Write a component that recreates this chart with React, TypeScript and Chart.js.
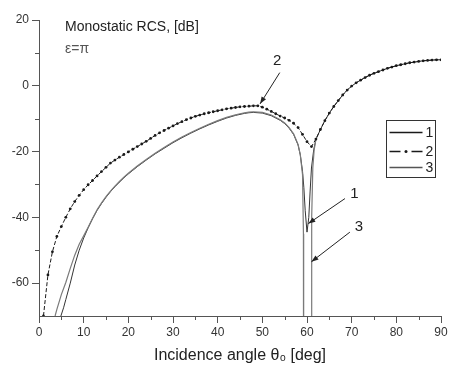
import React, { useEffect, useRef } from "react";
import { Chart, registerables } from "chart.js";

Chart.register(...registerables);

// ---- axis ticks ----
const xTicks = [0, 10, 20, 30, 40, 50, 60, 70, 80, 90];
const xMinorTicks = [5, 15, 25, 35, 45, 55, 65, 75, 85];
const yTicks = [-60, -40, -20, 0, 20];
const yMinorTicks = [-50, -30, -10, 10];

// ---- series labels ----
const seriesLabels = ["1", "2", "3"];

// ---- curve 2 (dash-dot with markers) ----
const curve2X = [
  1, 2, 3, 4, 5, 6, 7, 8, 9, 10, 11, 12, 13, 14, 15, 16, 17, 18, 19, 20,
  21, 22, 23, 24, 25, 26, 27, 28, 29, 30, 31, 32, 33, 34, 35, 36, 37, 38, 39, 40,
  41, 42, 43, 44, 45, 46, 47, 48, 49, 50, 51, 52, 53, 54, 55, 56, 57, 58, 59, 60,
  61, 62, 63, 64, 65, 66, 67, 68, 69, 70, 71, 72, 73, 74, 75, 76, 77, 78, 79, 80,
  81, 82, 83, 84, 85, 86, 87, 88, 89, 90,
];
const curve2Y = [
  -70, -57.5, -50.5, -45.8, -42.8, -40.0, -37.4, -35.2, -33.3, -31.6,
  -30.1, -28.8, -27.4, -26.1, -24.8, -23.5, -22.6, -21.7, -20.9, -20.1,
  -19.3, -18.5, -17.7, -16.9, -16.0, -15.1, -14.3, -13.6, -12.9, -12.2,
  -11.5, -10.9, -10.3, -9.8, -9.3, -8.9, -8.5, -8.2, -7.9, -7.6,
  -7.3, -7.0, -6.8, -6.6, -6.4, -6.3, -6.2, -6.1, -6.1, -6.5,
  -7.1, -7.8, -8.5, -9.2, -9.8, -10.5, -11.4, -12.7, -14.8, -17.0,
  -18.5, -16.2, -13.3, -10.6, -8.3, -6.3, -4.5, -2.8, -1.3, -0.1,
  0.9, 1.7, 2.5, 3.2, 3.8, 4.3, 4.8, 5.3, 5.7, 6.1,
  6.4, 6.7, 7.0, 7.2, 7.4, 7.6, 7.7, 7.8, 7.9, 7.9,
];

// ---- curve 1 (solid black) ----
const curve1X = [
  4.9, 5.5, 6, 7, 8, 9, 10, 11, 12, 13, 14, 15, 16, 17, 18, 19, 20,
  22, 24, 26, 28, 30, 32, 34, 36, 38, 40, 42, 44, 46, 47, 48, 50, 52, 54,
  55, 56, 57, 58, 58.5, 59, 59.3, 59.6, 60, 60.4, 60.7, 61, 61.5, 62,
  63, 64, 65, 66, 67, 68, 69, 70, 71, 72, 73, 74, 75, 76, 77, 78, 79, 80,
  81, 82, 83, 84, 85, 86, 87, 88, 89, 90,
];
const curve1Y = [
  -70, -67.5, -65, -60, -54.5, -50, -46.3, -43.2, -40.4, -37.9, -35.8, -33.9, -32.2, -30.7, -29.3, -28.0, -26.8,
  -24.6, -22.6, -20.7, -19.0, -17.3, -15.8, -14.4, -13.1, -11.9, -10.8, -9.8, -9.0, -8.4, -8.2, -8.1, -8.3, -9.1, -10.5,
  -11.5, -12.9, -14.8, -18.0, -21, -26, -31, -38, -44.5, -40, -32, -25, -19.5, -16.3,
  -13.3, -10.6, -8.3, -6.3, -4.5, -2.8, -1.3, -0.1, 0.9, 1.7, 2.5, 3.2, 3.8, 4.3, 4.8, 5.3, 5.7, 6.1,
  6.4, 6.7, 7.0, 7.2, 7.4, 7.6, 7.7, 7.8, 7.9, 7.9,
];

// ---- curve 3 (solid grey) ----
const curve3X = [
  3.6, 4, 5, 6, 7, 8, 9, 10, 11, 12, 13, 14, 15, 16, 17, 18, 19, 20,
  22, 24, 26, 28, 30, 32, 34, 36, 38, 40, 42, 44, 46, 47, 48, 50, 52, 54,
  55, 56, 57, 58, 58.5, 59, 59.2, 59.25, 60.95, 61.05, 61.3, 61.6, 62,
];
const curve3Y = [
  -70, -68, -63.5, -59.8, -55.5, -51.5, -48.2, -45.6, -43, -40.3, -37.7, -35.6, -33.7, -32.0, -30.5, -29.1, -27.8, -26.6,
  -24.4, -22.4, -20.5, -18.8, -17.1, -15.6, -14.2, -12.9, -11.7, -10.6, -9.6, -8.8, -8.2, -8.0, -7.9, -8.1, -8.9, -10.3,
  -11.3, -12.7, -14.6, -17.8, -21, -27, -45, -120, -120, -40, -25, -19.5, -16.3,
];

// ---- arrow annotations (data coordinates) ----
const annLabels = ["2", "1", "3"];
const annTipX = [49.5, 60.3, 61.0];
const annTipY = [-5.5, -41.9, -53.5];
const annTailX = [53.9, 68.5, 69.6];
const annTailY = [4.0, -34.3, -44.5];
const annTextX = [53.3, 70.6, 71.6];
const annTextY = [7.6, -33.0, -43.0];

const titleText = "Monostatic RCS, [dB]";
const subText = "ε=π";
const xTitle = "Incidence angle θ₀ [deg]";

const FONT = "'Liberation Sans', Arial, sans-serif";
const AXIS = "#555";
const BLACK = "#1a1a1a";
const DARK = "#333";
const GREY = "#7a7a7a";

const zip = (xs: number[], ys: number[]) => xs.map((x, i) => ({ x, y: ys[i] }));

const overlay = {
  id: "overlay",
  afterDraw(chart: any) {
    const { ctx, chartArea } = chart;
    const xs = chart.scales.x;
    const ys = chart.scales.y;
    ctx.save();
    // minor ticks
    ctx.strokeStyle = AXIS;
    ctx.lineWidth = 1;
    xMinorTicks.forEach((v) => {
      const px = Math.round(xs.getPixelForValue(v)) + 0.5;
      ctx.beginPath();
      ctx.moveTo(px, chartArea.bottom);
      ctx.lineTo(px, chartArea.bottom + 4);
      ctx.stroke();
    });
    yMinorTicks.forEach((v) => {
      const py = Math.round(ys.getPixelForValue(v)) + 0.5;
      ctx.beginPath();
      ctx.moveTo(chartArea.left, py);
      ctx.lineTo(chartArea.left - 4, py);
      ctx.stroke();
    });

    // texts
    ctx.fillStyle = "#222";
    ctx.textBaseline = "middle";
    ctx.textAlign = "left";
    ctx.font = `14px ${FONT}`;
    ctx.fillText(titleText, chartArea.left + 26, chartArea.top + 7);
    ctx.fillStyle = "#555";
    ctx.font = `14px ${FONT}`;
    ctx.fillText(subText, chartArea.left + 26, chartArea.top + 29);

    // annotations
    ctx.strokeStyle = "#222";
    ctx.fillStyle = "#222";
    ctx.lineWidth = 1;
    annLabels.forEach((lab, i) => {
      const tx = xs.getPixelForValue(annTipX[i]);
      const ty = ys.getPixelForValue(annTipY[i]);
      const sx = xs.getPixelForValue(annTailX[i]);
      const sy = ys.getPixelForValue(annTailY[i]);
      const ang = Math.atan2(ty - sy, tx - sx);
      ctx.beginPath();
      ctx.moveTo(sx, sy);
      ctx.lineTo(tx, ty);
      ctx.stroke();
      const L = 7, W = 2.6;
      ctx.beginPath();
      ctx.moveTo(tx, ty);
      ctx.lineTo(tx - L * Math.cos(ang) + W * Math.sin(ang), ty - L * Math.sin(ang) - W * Math.cos(ang));
      ctx.lineTo(tx - L * Math.cos(ang) - W * Math.sin(ang), ty - L * Math.sin(ang) + W * Math.cos(ang));
      ctx.closePath();
      ctx.fill();
      ctx.font = `15px ${FONT}`;
      ctx.textAlign = "center";
      ctx.textBaseline = "middle";
      ctx.fillText(lab, xs.getPixelForValue(annTextX[i]), ys.getPixelForValue(annTextY[i]));
    });

    // legend
    const bx = chartArea.right - 54.5;
    const by = chartArea.top + 100.5;
    const bw = 49;
    const bh = 57;
    ctx.strokeStyle = "#333";
    ctx.lineWidth = 1;
    ctx.strokeRect(bx, by, bw, bh);
    const rows = [12, 31, 47];
    ctx.font = `14px ${FONT}`;
    ctx.textAlign = "left";
    ctx.textBaseline = "middle";
    seriesLabels.forEach((lab, i) => {
      const yy = by + rows[i];
      const x0 = bx + 3;
      const x1 = bx + 36;
      ctx.lineWidth = 1.3;
      if (i === 1) {
        ctx.strokeStyle = BLACK;
        ctx.beginPath();
        ctx.moveTo(x0, yy);
        ctx.lineTo(x0 + 11, yy);
        ctx.moveTo(x1 - 11, yy);
        ctx.lineTo(x1, yy);
        ctx.stroke();
        ctx.fillStyle = BLACK;
        ctx.beginPath();
        ctx.arc((x0 + x1) / 2, yy, 1.5, 0, Math.PI * 2);
        ctx.fill();
      } else {
        ctx.strokeStyle = i === 0 ? BLACK : "#555";
        ctx.beginPath();
        ctx.moveTo(x0, yy);
        ctx.lineTo(x1, yy);
        ctx.stroke();
      }
      ctx.fillStyle = "#222";
      ctx.fillText(lab, bx + 39, yy + 1);
    });
    ctx.restore();
  },
};

export default function App() {
  const ref = useRef<HTMLCanvasElement | null>(null);
  useEffect(() => {
    document.body.style.margin = "0";
    const canvas = ref.current;
    if (!canvas) return;
    const chart = new Chart(canvas, {
      type: "line",
      data: {
        datasets: [
          {
            label: seriesLabels[1],
            data: zip(curve2X, curve2Y),
            borderColor: BLACK,
            backgroundColor: BLACK,
            borderWidth: 1,
            borderDash: [4, 2],
            pointRadius: 1.4,
            pointBorderWidth: 0,
            pointBackgroundColor: BLACK,
            tension: 0,
            order: 0,
          },
          {
            label: seriesLabels[2],
            data: zip(curve3X, curve3Y),
            borderColor: GREY,
            borderWidth: 1.2,
            pointRadius: 0,
            tension: 0,
            order: 1,
          },
          {
            label: seriesLabels[0],
            data: zip(curve1X, curve1Y),
            borderColor: DARK,
            borderWidth: 1,
            pointRadius: 0,
            tension: 0,
            order: 2,
          },
        ],
      },
      options: {
        animation: false,
        responsive: false,
        devicePixelRatio: 1,
        layout: { padding: { left: 0, right: 33, top: 20, bottom: 0 } },
        plugins: { legend: { display: false }, tooltip: { enabled: false } },
        scales: {
          x: {
            type: "linear",
            min: 0,
            max: 90,
            afterBuildTicks: (s: any) => {
              s.ticks = xTicks.map((v) => ({ value: v }));
            },
            afterFit: (s: any) => {
              s.height = 53;
            },
            grid: { drawOnChartArea: false, tickLength: 7, color: AXIS, tickColor: AXIS },
            border: { display: true, color: AXIS, width: 1 },
            ticks: { color: "#333", font: { family: FONT, size: 12 }, padding: 2, maxRotation: 0 },
            title: {
              display: true,
              text: xTitle,
              color: "#222",
              font: { family: FONT, size: 16 },
              padding: { top: 0, bottom: 4 },
            },
          },
          y: {
            type: "linear",
            min: -70,
            max: 20,
            afterBuildTicks: (s: any) => {
              s.ticks = yTicks.map((v) => ({ value: v }));
            },
            afterFit: (s: any) => {
              s.width = 39;
            },
            grid: { drawOnChartArea: false, tickLength: 7, color: AXIS, tickColor: AXIS },
            border: { display: true, color: AXIS, width: 1 },
            ticks: { color: "#333", font: { family: FONT, size: 12 }, padding: 3 },
          },
        },
      },
      plugins: [overlay],
    });
    return () => chart.destroy();
  }, []);
  return (
    <div style={{ position: "absolute", left: 0, top: 0, width: 474, height: 369, background: "#fff" }}>
      <canvas ref={ref} width={474} height={369} />
    </div>
  );
}
